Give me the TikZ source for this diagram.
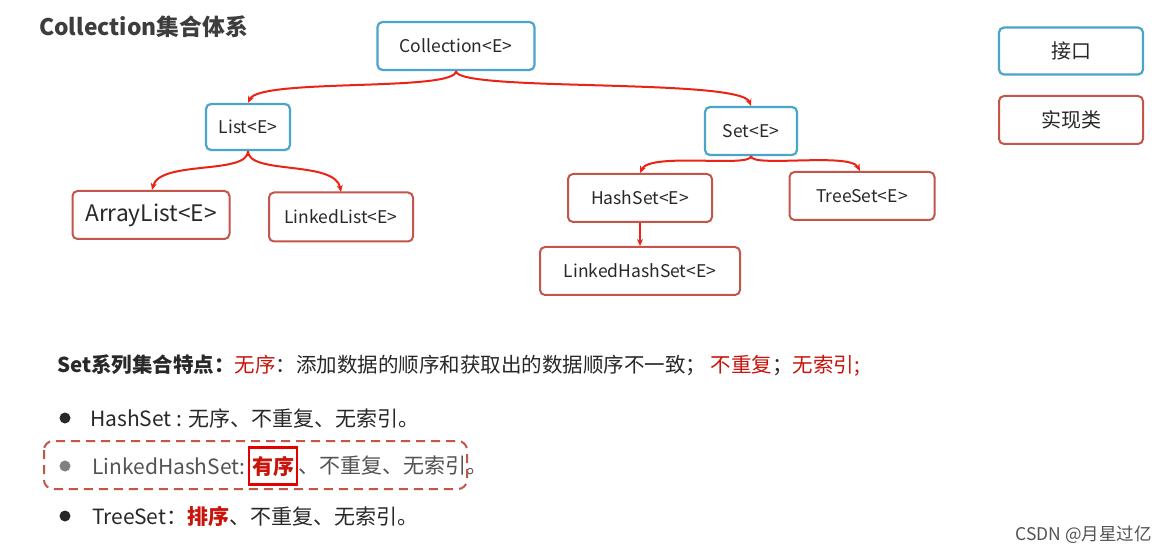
\documentclass[tikz,border=0pt]{standalone}
\usepackage{fontspec}
\setmainfont{Noto Sans CJK SC}
\usetikzlibrary{arrows.meta}
\definecolor{ib}{RGB}{75,165,200}
\definecolor{cb}{RGB}{195,85,75}
\definecolor{ar}{RGB}{235,35,20}
\definecolor{tx}{RGB}{40,40,40}
\definecolor{rd}{RGB}{200,20,10}
\tikzset{
 ifc/.style={draw=ib,line width=2.2pt,rounded corners=5pt,fill=white,inner sep=0pt,font=\fontsize{17.5}{20}\selectfont,text=tx},
 cls/.style={draw=cb,line width=2pt,rounded corners=5pt,fill=white,inner sep=0pt,font=\fontsize{17.5}{20}\selectfont,text=tx},
 con/.style={draw=ar,line width=2pt,-{Stealth[length=7pt,width=6pt]}},
 txt/.style={anchor=west,inner sep=0pt,font=\fontsize{21}{25}\selectfont,text=tx}
}
\begin{document}
\begin{tikzpicture}[x=1pt,y=-1pt]
\useasboundingbox (0,0) rectangle (1167,553);
\fill[white] (0,0) rectangle (1167,553);
\node[anchor=west,inner sep=0pt,font=\fontsize{22.8}{26}\selectfont\bfseries,text=tx!90] (title) at (39,27) {Collection集合体系};
\node[ifc,minimum width=157pt,minimum height=48pt] (col) at (456,46) {Collection<E>};
\node[ifc,minimum width=84pt,minimum height=46pt] (list) at (248,127) {List<E>};
\node[ifc,minimum width=92pt,minimum height=48pt] (set) at (751,131) {Set<E>};
\node[cls,minimum width=157pt,minimum height=48pt,font=\fontsize{22.7}{26}\selectfont] (al) at (151,215) {ArrayList<E>};
\node[cls,minimum width=144pt,minimum height=49pt] (ll) at (341,217) {LinkedList<E>};
\node[cls,minimum width=144pt,minimum height=48pt] (hs) at (640,198) {HashSet<E>};
\node[cls,minimum width=145pt,minimum height=48pt] (ts) at (862,196) {TreeSet<E>};
\node[cls,minimum width=200pt,minimum height=48pt] (lhs) at (640,271) {LinkedHashSet<E>};
\node[ifc,minimum width=144pt,minimum height=47pt,font=\fontsize{20}{24}\selectfont] (k1) at (1071,51) {接口};
\node[cls,minimum width=144pt,minimum height=48pt,font=\fontsize{20}{24}\selectfont] (k2) at (1071,120) {实现类};
\draw[con] (col.south) .. controls (456,92) and (260,78) .. (list.north);
\draw[con] (col.south) .. controls (456,92) and (740,78) .. (set.north);
\draw[con] (list.south) .. controls (248,175) and (160,160) .. (152,190);
\draw[con] (list.south) .. controls (248,175) and (335,160) .. (341,192);
\draw[con] (set.south) .. controls (751,168) and (650,152) .. (640,173);
\draw[con] (set.south) .. controls (751,168) and (850,152) .. (860,171);
\draw[con] (hs.south) -- (lhs.north);
\node[txt,font=\fontsize{20.5}{24}\selectfont] (h) at (57,366) {\textbf{Set系列集合特点：}\textcolor{rd}{无序}：添加数据的顺序和获取出的数据顺序不一致；\ \textcolor{rd}{不重复}；\textcolor{rd}{无索引;}};
\node[circle,fill=tx,inner sep=0pt,minimum size=11pt] (b1) at (65,418) {};
\node[circle,fill=gray,inner sep=0pt,minimum size=11pt] (b2) at (65,466) {};
\node[circle,fill=tx,inner sep=0pt,minimum size=11pt] (b3) at (65,516) {};
\node[txt] (t1) at (90,418) {HashSet : 无序、不重复、无索引。};
\node[txt,text=tx!80] (t2) at (92,466) {LinkedHashSet:};
\node[txt,text=rd,font=\fontsize{21}{25}\selectfont\bfseries,draw=red!90!black,line width=2.5pt,inner xsep=3pt,minimum height=37pt] (yx) at ([xshift=2pt]t2.east) {有序};
\node[txt,text=tx!80] (t2b) at (yx.east) {、不重复、无索引。};
\node[txt] (t3) at (92,516) {TreeSet：\textcolor{rd}{\textbf{排序}}、不重复、无索引。};
\draw[cb,line width=2pt,dash pattern=on 9pt off 6pt,rounded corners=9pt] (44,441) rectangle (467,489);
\node[anchor=east,inner sep=0pt,font=\fontsize{17.5}{20}\selectfont,text=tx!80] (wm) at (1152,535) {CSDN @月星过亿};
\end{tikzpicture}
\end{document}
